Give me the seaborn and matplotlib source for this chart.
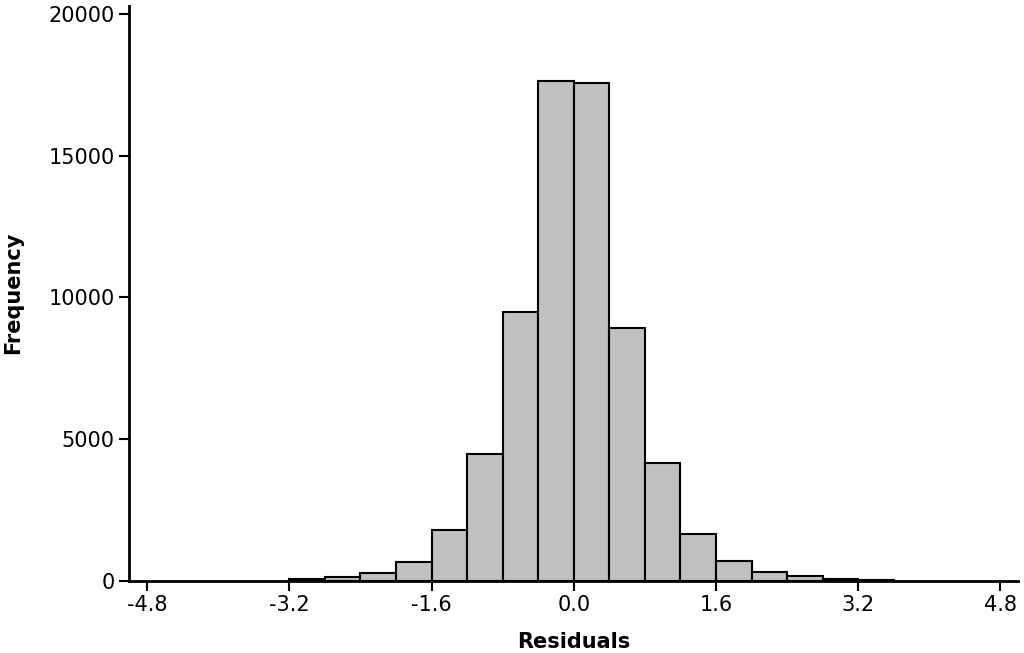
import numpy as np
import pandas as pd
import matplotlib
matplotlib.use("Agg")
import matplotlib.pyplot as plt
import seaborn as sns

# Histogram of residuals, bins of width 0.4
bin_edges = [-3.2, -2.8, -2.4, -2.0, -1.6, -1.2, -0.8, -0.4, 0.0,
             0.4, 0.8, 1.2, 1.6, 2.0, 2.4, 2.8, 3.2, 3.6]
counts = [40, 120, 260, 660, 1790, 4480, 9500, 17650, 17570,
          8930, 4160, 1660, 690, 310, 160, 50, 35]

centers = [(a + b) / 2 for a, b in zip(bin_edges[:-1], bin_edges[1:])]
df = pd.DataFrame({'residual': centers, 'count': counts})

sns.set_theme(style="ticks")
plt.rcParams['font.family'] = ['DejaVu Sans']
plt.rcParams['text.color'] = 'black'
plt.rcParams['axes.labelcolor'] = 'black'
plt.rcParams['xtick.color'] = 'black'
plt.rcParams['ytick.color'] = 'black'

fig = plt.figure(figsize=(10.24, 6.53), dpi=100)
ax = fig.add_axes([0.1263, 0.111, 0.868, 0.88])

sns.histplot(data=df, x='residual', weights='count', bins=bin_edges,
             color='#c0c0c0', edgecolor='black', linewidth=1.5, alpha=1.0, ax=ax)

ax.set_xlim(-5.0, 5.0)
ax.set_ylim(0, 20300)
ax.set_xticks([-4.8, -3.2, -1.6, 0.0, 1.6, 3.2, 4.8])
ax.set_xticklabels(['-4.8', '-3.2', '-1.6', '0.0', '1.6', '3.2', '4.8'])
ax.set_yticks([0, 5000, 10000, 15000, 20000])

ax.tick_params(axis='both', labelsize=15, length=7, width=1.5, direction='out',
               color='black', labelcolor='black')
for side in ['top', 'right']:
    ax.spines[side].set_visible(False)
for side in ['left', 'bottom']:
    ax.spines[side].set_linewidth(2)
    ax.spines[side].set_color('black')

ax.set_xlabel('Residuals', fontsize=15, fontweight='bold', labelpad=12, color='black')
ax.set_ylabel('Frequency', fontsize=15, fontweight='bold', labelpad=18, color='black')

fig.savefig('out.png', dpi=100)
plt.close(fig)
